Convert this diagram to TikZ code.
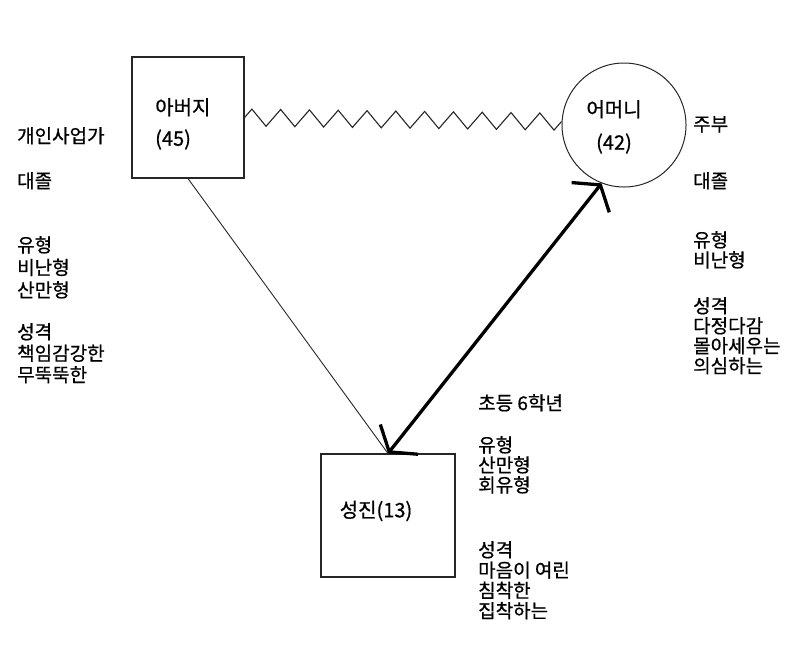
\documentclass[tikz,border=0pt]{standalone}
\usepackage{fontspec}
\setmainfont{Noto Sans CJK KR}[FakeBold=0.7]
\usetikzlibrary{arrows.meta,decorations.pathmorphing}
\tikzset{
  box/.style={draw=black!85, line width=1.1pt, inner sep=0pt, fill=none},
  circ/.style={circle, draw=black!85, line width=1pt, inner sep=0pt},
  txt/.style={inner sep=0pt, align=left, text=black},
  thinline/.style={draw=black!85, line width=0.9pt},
  zz/.style={draw=black!85, line width=1.1pt, decorate,
    decoration={zigzag, segment length=28.8pt, amplitude=8.5pt}},
  thickarrow/.style={draw=black, line width=3.3pt, <->,
    >={Straight Barb[length=16pt,width=48pt]}}
}
\begin{document}
\begin{tikzpicture}[x=1pt,y=-1pt]
\useasboundingbox (0,0) rectangle (799,665);
% family nodes
\node[box, minimum width=112pt, minimum height=121pt] (father) at (188,117.5) {};
\node[circ, minimum size=124pt] (mother) at (624,125) {};
\node[box, minimum width=134pt, minimum height=123pt] (son) at (388,515.5) {};
% labels inside
\node[txt, anchor=north west, font=\fontsize{20}{31}\selectfont] (fatherlbl) at (155,98) {아버지\\(45)};
\node[txt, align=center, anchor=north, font=\fontsize{20}{33}\selectfont] (motherlbl) at (614,100) {어머니\\(42)};
\node[txt, anchor=center, font=\fontsize{20}{23}\selectfont] (sonlbl) at (376,511) {성진(13)};
% connectors
\draw[zz] (father.east) -- (mother.177);
\draw[thinline] (father.south) -- (son.north);
\draw[thickarrow] (son.north) -- (mother.249);
% left column
\node[txt, anchor=north west, font=\fontsize{19}{22.5}\selectfont] (lA) at (17,127) {개인사업가};
\node[txt, anchor=north west, font=\fontsize{19}{22.5}\selectfont] (lB) at (17,172) {대졸};
\node[txt, anchor=north west, font=\fontsize{19}{22.5}\selectfont] (lC) at (17,236) {유형\\비난형\\산만형};
\node[txt, anchor=north west, font=\fontsize{19}{21.5}\selectfont] (lD) at (17,323) {성격\\책임감강한\\무뚝뚝한};
% right column
\node[txt, anchor=north west, font=\fontsize{19}{20}\selectfont] (rA) at (693,116) {주부};
\node[txt, anchor=north west, font=\fontsize{19}{20}\selectfont] (rB) at (693,172) {대졸};
\node[txt, anchor=north west, font=\fontsize{19}{20}\selectfont] (rC) at (693,231) {유형\\비난형};
\node[txt, anchor=north west, font=\fontsize{19}{20}\selectfont] (rD) at (693,297) {성격\\다정다감\\몰아세우는\\의심하는};
% bottom column
\node[txt, anchor=north west, font=\fontsize{19}{20}\selectfont] (bA) at (478,394) {초등 6학년};
\node[txt, anchor=north west, font=\fontsize{19}{20}\selectfont] (bB) at (478,436) {유형\\산만형\\회유형};
\node[txt, anchor=north west, font=\fontsize{19}{20.3}\selectfont] (bC) at (478,541) {성격\\마음이 여린\\침착한\\집착하는};
\end{tikzpicture}
\end{document}
